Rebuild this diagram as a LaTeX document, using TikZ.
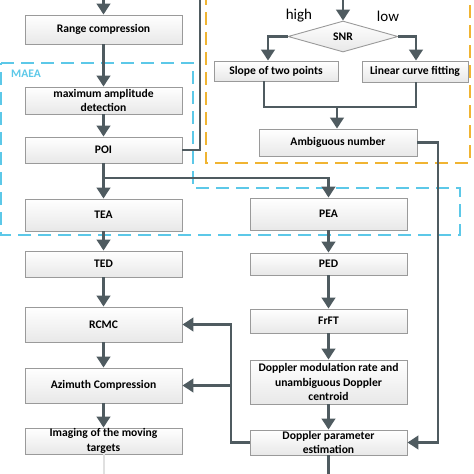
\documentclass[tikz,border=0pt]{standalone}
\usepackage{fontspec}
\setmainfont{Carlito}
\usetikzlibrary{arrows.meta,shapes.geometric}
\definecolor{arr}{HTML}{4F5B60}
\definecolor{bord}{HTML}{9A9A9A}
\definecolor{cyanl}{HTML}{5CC8E8}
\definecolor{orng}{HTML}{F0B432}
\tikzset{
  box/.style={draw=bord,line width=0.9pt,top color=white,bottom color=black!9,
    align=center,font=\bfseries\fontsize{11.6}{14.2}\selectfont,inner sep=0.5pt},
  lbox/.style={box,minimum width=157pt},
  dia/.style={diamond,draw=bord,line width=0.9pt,top color=white,bottom color=black!9,
    font=\bfseries\fontsize{11.6}{12.2}\selectfont,inner sep=0pt,aspect=3.5},
  ar/.style={draw=arr,line width=2.8pt,-{Triangle[length=11pt,width=13.5pt]}},
  ln/.style={draw=arr,line width=2.8pt},
  region/.style={line width=2pt,dash pattern=on 13pt off 7pt},
  lab/.style={font=\fontsize{15}{16}\selectfont,text=black}
}
\begin{document}
\begin{tikzpicture}[x=1pt,y=-1pt]
\useasboundingbox (0,0) rectangle (474,474);
% regions
\draw[region,draw=cyanl] (1,63) -- (193,63) -- (193,188) -- (460,188) -- (460,235) -- (1,235) -- cycle;
\draw[region,draw=orng] (206,-8) -- (206,163) -- (470,163) -- (470,-8);
\node[anchor=west,text=cyanl,font=\bfseries\fontsize{11.6}{12.2}\selectfont,inner sep=0pt] (maea) at (11,74) {MAEA};
% left column
\node[lbox,minimum height=29pt] (rc) at (103.5,29.5) {Range compression};
\node[lbox,minimum height=27pt] (mad) at (103.5,100.5) {maximum amplitude\\detection};
\node[lbox,minimum height=26pt] (poi) at (103.5,150) {POI};
\node[lbox,minimum height=32pt] (tea) at (103.5,215) {TEA};
\node[lbox,minimum height=26pt] (ted) at (103.5,264) {TED};
\node[lbox,minimum height=35pt] (rcmc) at (103.5,324.5) {RCMC};
\node[lbox,minimum height=35pt] (azc) at (103.5,385.5) {Azimuth Compression};
\node[lbox,minimum height=26pt] (img) at (103.5,441) {Imaging of the moving\\targets};
% right column
\node[lbox,minimum height=32pt] (pea) at (328.5,214) {PEA};
\node[lbox,minimum height=22pt] (ped) at (328.5,264) {PED};
\node[lbox,minimum height=24pt] (frft) at (328.5,321) {FrFT};
\node[lbox,minimum height=44pt] (dmr) at (328.5,382) {Doppler modulation rate and\\unambiguous Doppler\\centroid};
\node[lbox,minimum height=25pt] (dpe) at (328.5,442.5) {Doppler parameter\\estimation};
% top right
\node[dia,minimum width=110pt,minimum height=31pt] (snr) at (343,36.5) {SNR};
\node[box,minimum width=124pt,minimum height=20pt] (slope) at (276,71) {Slope of two points};
\node[box,minimum width=106pt,minimum height=21pt] (lin) at (415,71.5) {Linear curve fitting};
\node[box,minimum width=158pt,minimum height=27pt] (amb) at (338,142.5) {Ambiguous number};
\node[lab] (high) at (299,16) {high};
\node[lab] (low) at (388,16) {low};
% coordinates
\coordinate (t0) at (103.5,0);
\coordinate (t1) at (343,0);
\coordinate (pup) at (200,0);
\coordinate (jn) at (103.5,178);
\coordinate (mg) at (337,107);
\coordinate (b0) at (103.5,474);
\coordinate (b1) at (328.5,474);
% connectors
\draw[ar] (t0) -- (rc);
\draw[ar] (rc) -- (mad);
\draw[ar] (mad) -- (poi);
\draw[ar] (poi) -- (tea);
\draw[ar] (jn) -| (pea.north);
\draw[ln] (poi.east) -| (pup);
\draw[ar] (t1) -- (snr.north);
\draw[ar] (snr.west) -| (slope.north -| 268,0);
\draw[ar] (snr.east) -| (lin.north -| 416,0);
\draw[ln] (slope.south -| 264,0) |- (mg) -| (lin.south -| 416,0);
\draw[ar] (mg) -- (amb.north -| mg);
\draw[ar] (amb.east) -| (438,300) |- (dpe.east);
\draw[ar] (tea) -- (ted);
\draw[ar] (ted) -- (rcmc);
\draw[ar] (rcmc) -- (azc);
\draw[ar] (azc) -- (img);
\draw[ar] (pea) -- (ped);
\draw[ar] (ped) -- (frft);
\draw[ar] (frft) -- (dmr);
\draw[ar] (dmr) -- (dpe);
\draw[ln] (dpe.west) -| (231,385.5);
\draw[ar] (231,386) |- (rcmc.east);
\draw[ar] (231,385.5) -- (azc.east);
\draw[ln] (dpe.south) -- (b1);
\draw[draw=black!12,line width=2pt] (img.south) -- (b0);
\end{tikzpicture}
\end{document}
